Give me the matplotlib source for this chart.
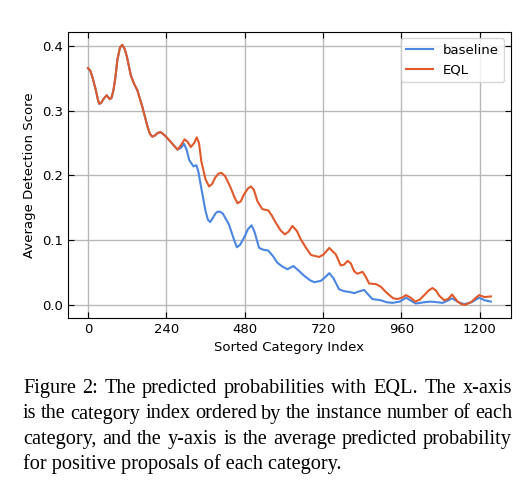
import matplotlib
matplotlib.use('Agg')
import matplotlib.pyplot as plt

# values
base_x = [0, 7, 13, 24, 30, 34, 40, 47, 57, 67, 72, 78, 84, 90, 98, 105, 112, 119, 131, 141,
          151, 166, 182, 190, 197, 205, 214, 223, 235, 248, 262, 274, 285, 294, 302, 310,
          323, 332, 338, 345, 360, 367, 374, 382, 390, 397, 405, 413, 432, 445, 456, 466,
          478, 490, 501, 510, 524, 538, 552, 567, 580, 596, 611, 629, 645, 662, 680, 693,
          713, 727, 739, 752, 769, 785, 800, 815, 832, 846, 858, 871, 897, 915, 933, 955,
          974, 990, 1004, 1030, 1050, 1070, 1086, 1100, 1115, 1135, 1152, 1175, 1198, 1215,
          1234]
base_y = [0.366, 0.362, 0.353, 0.332, 0.318, 0.311, 0.312, 0.318, 0.324, 0.318, 0.320, 0.332,
          0.352, 0.379, 0.398, 0.402, 0.396, 0.384, 0.355, 0.342, 0.332, 0.307, 0.276, 0.264,
          0.260, 0.262, 0.266, 0.267, 0.262, 0.255, 0.247, 0.240, 0.243, 0.249, 0.240, 0.224,
          0.214, 0.216, 0.206, 0.186, 0.145, 0.132, 0.128, 0.134, 0.141, 0.144, 0.144, 0.141,
          0.124, 0.104, 0.089, 0.093, 0.104, 0.117, 0.123, 0.113, 0.088, 0.085, 0.084, 0.075,
          0.065, 0.059, 0.055, 0.060, 0.053, 0.045, 0.038, 0.035, 0.037, 0.043, 0.049, 0.041,
          0.024, 0.021, 0.020, 0.018, 0.021, 0.023, 0.016, 0.009, 0.007, 0.004, 0.003, 0.005,
          0.011, 0.006, 0.002, 0.004, 0.005, 0.004, 0.003, 0.006, 0.010, 0.004, 0.001, 0.004,
          0.011, 0.007, 0.005]

eql_x = [0, 7, 13, 24, 30, 34, 40, 47, 57, 67, 72, 78, 84, 90, 98, 105, 112, 119, 131, 141,
         151, 166, 182, 190, 197, 205, 214, 223, 235, 248, 262, 274, 285, 296, 305, 315,
         325, 333, 340, 347, 360, 371, 380, 390, 400, 409, 420, 437, 448, 458, 468, 478,
         490, 499, 508, 519, 534, 552, 563, 575, 590, 603, 614, 626, 640, 652, 668, 683,
         708, 722, 739, 759, 774, 784, 795, 805, 815, 825, 841, 851, 861, 882, 897, 910,
         923, 935, 948, 961, 974, 988, 1002, 1016, 1030, 1043, 1055, 1066, 1076, 1091,
         1103, 1115, 1132, 1144, 1155, 1173, 1186, 1198, 1214, 1234]
eql_y = [0.366, 0.362, 0.353, 0.332, 0.318, 0.311, 0.312, 0.318, 0.324, 0.318, 0.320, 0.332,
         0.352, 0.379, 0.398, 0.402, 0.396, 0.384, 0.355, 0.342, 0.332, 0.307, 0.276, 0.264,
         0.260, 0.262, 0.266, 0.267, 0.262, 0.255, 0.247, 0.240, 0.247, 0.256, 0.252, 0.244,
         0.250, 0.259, 0.250, 0.222, 0.194, 0.183, 0.187, 0.197, 0.203, 0.204, 0.199, 0.181,
         0.167, 0.157, 0.160, 0.171, 0.180, 0.183, 0.178, 0.160, 0.148, 0.146, 0.138, 0.127,
         0.115, 0.109, 0.113, 0.122, 0.114, 0.101, 0.088, 0.077, 0.074, 0.078, 0.088, 0.078,
         0.061, 0.062, 0.068, 0.064, 0.052, 0.048, 0.051, 0.043, 0.033, 0.032, 0.028, 0.021,
         0.015, 0.010, 0.009, 0.011, 0.015, 0.011, 0.005, 0.008, 0.015, 0.022, 0.026, 0.022,
         0.014, 0.007, 0.009, 0.016, 0.005, 0.001, 0.000, 0.004, 0.010, 0.015, 0.012, 0.013]

xticks = [0, 240, 480, 720, 960, 1200]
yticks = [0.0, 0.1, 0.2, 0.3, 0.4]

caption = ["Figure 2: The predicted probabilities with EQL. The x-axis",
           "is the category index ordered by the instance number of each",
           "category, and the y-axis is the average predicted probability",
           "for positive proposals of each category."]

fig = plt.figure(figsize=(5.22, 4.83), dpi=100)
ax = fig.add_axes([0.130, 0.342, 0.849, 0.592])

ax.plot(base_x, base_y, color='#4a86e0', lw=1.5, label='baseline')
ax.plot(eql_x, eql_y, color='#e0592a', lw=1.5, label='EQL')

ax.set_xticks(xticks)
ax.set_yticks(yticks)
ax.grid(True, color='#b8b8b8', lw=1)
ax.set_axisbelow(True)
ax.tick_params(direction='in', top=True, right=True, labelsize=9.5, length=4)
ax.set_xlabel('Sorted Category Index', fontsize=9.5)
ax.set_ylabel('Average Detection Score', fontsize=9.5)
ax.legend(loc='upper right', fontsize=9.5)

# justified caption: every line but the last is spread to the right edge
left, right = 23, 512
baselines = [393, 418.5, 444, 469.5]
renderer = fig.canvas.get_renderer()
for i, line in enumerate(caption):
    yb = 1 - baselines[i] / 483
    words = line.split(' ')
    if i == len(caption) - 1:
        fig.text(left / 522, yb, line, family='Liberation Serif', fontsize=14.6, va='baseline')
        continue
    objs = [fig.text(0, yb, w, family='Liberation Serif', fontsize=14.6, va='baseline')
            for w in words]
    widths = [o.get_window_extent(renderer).width for o in objs]
    gap = (right - left - sum(widths)) / (len(words) - 1)
    xp = left
    for o, wd in zip(objs, widths):
        o.set_x(xp / 522)
        xp += wd + gap

fig.savefig('out.png', dpi=100)
